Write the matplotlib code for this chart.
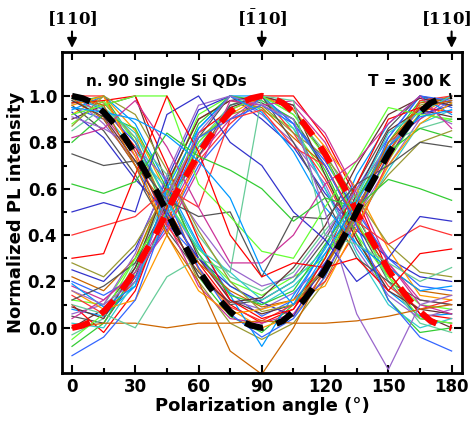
import numpy as np
import matplotlib.pyplot as plt

plt.rcParams['font.family'] = 'DejaVu Sans'
plt.rcParams['font.weight'] = 'bold'
plt.rcParams['mathtext.fontset'] = 'dejavuserif'

angles = [0, 15, 30, 45, 60, 75, 90, 105, 120, 135, 150, 165, 180]

# QDs aligned along [110] (max at 0 and 180 deg)
family_a = [
    [1.00, 0.95, 0.78, 0.52, 0.28, 0.10, 0.02, 0.08, 0.27, 0.52, 0.76, 0.95, 1.00],
    [0.97, 1.00, 0.80, 0.48, 0.22, 0.05, -0.02, 0.10, 0.30, 0.55, 0.80, 0.98, 0.96],
    [0.95, 0.90, 0.70, 0.45, 0.30, 0.15, 0.05, 0.12, 0.35, 0.60, 0.82, 1.00, 0.95],
    [1.00, 0.88, 0.72, 0.55, 0.32, 0.12, 0.08, 0.15, 0.28, 0.48, 0.70, 0.90, 0.98],
    [0.92, 1.00, 0.85, 0.58, 0.25, 0.08, 0.00, 0.05, 0.22, 0.50, 0.78, 0.92, 1.00],
    [0.98, 0.93, 0.76, 0.60, 0.35, 0.18, 0.10, 0.18, 0.32, 0.45, 0.68, 0.88, 0.94],
    [1.00, 0.97, 0.82, 0.50, 0.20, 0.02, -0.05, 0.02, 0.20, 0.48, 0.75, 0.96, 1.00],
    [0.90, 0.96, 1.00, 0.62, 0.30, 0.12, 0.06, 0.10, 0.25, 0.58, 0.85, 0.94, 0.91],
    [0.96, 0.85, 0.66, 0.42, 0.24, 0.10, 0.12, 0.20, 0.38, 0.62, 0.86, 1.00, 0.97],
    [0.88, 0.98, 0.80, 0.55, 0.34, 0.20, 0.14, 0.22, 0.30, 0.52, 0.72, 0.93, 0.89],
    [1.00, 0.92, 0.74, 0.46, 0.18, 0.04, 0.02, 0.06, 0.24, 0.46, 0.80, 0.90, 1.00],
    [0.94, 1.00, 0.88, 0.62, 0.36, 0.14, -0.08, 0.14, 0.34, 0.66, 0.88, 1.00, 0.92],
    [0.99, 0.90, 0.70, 0.52, 0.28, 0.16, 0.09, 0.12, 0.26, 0.55, 0.78, 0.97, 0.99],
    [0.85, 0.95, 0.82, 0.66, 0.40, 0.22, 0.16, 0.24, 0.42, 0.58, 0.80, 0.86, 0.90],
    [1.00, 1.00, 0.76, 0.44, 0.26, 0.09, 0.03, 0.10, 0.20, 0.42, 0.72, 0.98, 1.00],
    [0.93, 0.82, 0.64, 0.50, 0.30, 0.18, 0.11, 0.05, 0.28, 0.50, 0.74, 0.92, 0.96],
    [0.97, 0.98, 1.00, 0.70, 0.38, 0.12, 0.04, 0.08, 0.30, 0.62, 0.90, 0.95, 0.93],
    [0.80, 0.92, 0.86, 0.60, 0.32, 0.14, 0.10, 0.16, 0.36, 0.56, 0.76, 0.86, 0.82],
    [1.00, 0.94, 0.80, 0.56, 0.26, 0.06, -0.04, 0.04, 0.22, 0.50, 0.82, 1.00, 0.98],
    [0.91, 0.86, 0.78, 0.64, 0.44, 0.26, 0.18, 0.22, 0.40, 0.60, 0.78, 0.94, 0.88],
    [0.96, 1.00, 0.74, 0.40, 0.16, 0.06, 0.08, 0.12, 0.18, 0.44, 0.70, 0.88, 0.97],
    [0.99, 0.95, 0.84, 0.54, 0.34, 0.24, 0.12, 0.20, 0.34, 0.56, 0.84, 0.93, 1.00],
    [0.87, 1.00, 0.92, 0.68, 0.42, 0.20, 0.07, 0.10, 0.26, 0.48, 0.66, 0.80, 0.85],
    [0.98, 0.91, 0.72, 0.48, 0.22, 0.11, 0.13, 0.26, 0.44, 0.70, 0.92, 0.99, 0.96],
    [0.75, 0.70, 0.72, 0.55, 0.48, 0.50, 0.22, 0.48, 0.47, 0.62, 0.70, 0.80, 0.78],
    [0.92, 0.96, 1.00, 1.00, 0.62, 0.48, 0.33, 0.30, 0.52, 0.72, 0.95, 0.92, 0.90],
    [0.82, 0.86, 0.98, 0.78, 0.52, 0.28, 0.28, 0.40, 0.62, 0.72, 0.88, 1.00, 0.86],
    [0.95, 0.93, 0.90, 0.83, 0.72, 0.56, 0.25, 0.10, 0.32, 0.54, 0.78, 0.91, 0.94],
    [1.00, 0.96, 0.70, 0.40, 0.20, -0.10, -0.20, 0.00, 0.26, 0.50, 0.80, 0.95, 0.98],
]

# QDs aligned along [-110] (max at 90 deg)
family_b = [
    [0.00, 0.08, 0.26, 0.52, 0.78, 0.95, 1.00, 0.94, 0.74, 0.48, 0.24, 0.06, 0.00],
    [0.05, 0.02, 0.22, 0.55, 0.82, 1.00, 0.97, 0.90, 0.70, 0.45, 0.20, 0.04, 0.02],
    [0.12, 0.10, 0.30, 0.60, 0.92, 1.00, 0.94, 0.86, 0.66, 0.40, 0.22, 0.10, 0.08],
    [0.18, 0.12, 0.24, 0.48, 0.74, 0.90, 1.00, 0.96, 0.80, 0.52, 0.28, 0.12, 0.10],
    [0.08, 0.05, 0.18, 0.50, 0.86, 1.00, 1.00, 0.88, 0.60, 0.36, 0.16, 0.05, 0.06],
    [0.22, 0.16, 0.30, 0.62, 0.90, 0.98, 0.95, 0.82, 0.70, 0.44, 0.26, 0.16, 0.14],
    [-0.03, 0.04, 0.28, 0.58, 0.80, 0.96, 1.00, 0.92, 0.76, 0.50, 0.20, 0.02, -0.02],
    [0.14, 0.06, 0.20, 0.46, 0.72, 0.88, 1.00, 0.84, 0.64, 0.38, 0.18, 0.08, 0.12],
    [0.25, 0.20, 0.34, 0.64, 0.94, 1.00, 0.90, 0.78, 0.58, 0.42, 0.30, 0.22, 0.20],
    [0.10, -0.02, 0.16, 0.52, 0.84, 0.94, 1.00, 1.00, 0.82, 0.56, 0.24, 0.06, 0.04],
    [-0.08, 0.02, 0.24, 0.56, 0.88, 1.00, 0.98, 0.90, 0.68, 0.40, 0.12, -0.02, 0.00],
    [0.20, 0.14, 0.22, 0.44, 0.70, 0.86, 1.00, 0.88, 0.72, 0.50, 0.30, 0.18, 0.16],
    [0.06, 0.10, 0.32, 0.66, 0.96, 1.00, 0.92, 0.80, 0.62, 0.34, 0.14, 0.04, 0.08],
    [0.16, 0.08, 0.12, 0.40, 0.76, 0.92, 1.00, 0.94, 0.78, 0.60, 0.34, 0.14, 0.12],
    [0.02, 0.00, 0.20, 0.48, 0.78, 0.96, 1.00, 0.86, 0.60, 0.32, 0.10, 0.00, 0.04],
    [0.28, 0.22, 0.36, 0.58, 0.82, 0.92, 0.96, 0.84, 0.74, 0.56, 0.36, 0.24, 0.22],
    [0.09, 0.04, 0.26, 0.62, 0.90, 0.98, 1.00, 0.96, 0.66, 0.38, 0.16, 0.08, 0.06],
    [0.12, 0.18, 0.28, 0.54, 0.74, 0.96, 1.00, 0.80, 0.56, 0.30, 0.20, 0.12, 0.10],
    [-0.05, 0.06, 0.30, 0.50, 0.80, 0.94, 1.00, 0.92, 0.74, 0.46, 0.22, 0.04, 0.02],
    [0.04, 0.12, 0.24, 0.42, 0.68, 0.98, 0.96, 0.98, 0.84, 0.58, 0.28, 0.10, 0.06],
    [0.19, 0.09, 0.18, 0.60, 0.86, 1.00, 0.93, 0.76, 0.52, 0.36, 0.26, 0.16, 0.18],
    [0.00, 0.02, 0.02, 0.00, 0.02, 0.02, 0.03, 0.02, 0.02, 0.03, 0.05, 0.08, 0.10],
    [0.10, 0.06, 0.00, 0.22, 0.30, 0.24, 1.00, 0.98, 0.40, 0.36, 0.28, 0.20, 0.26],
    [0.40, 0.44, 0.48, 0.60, 0.52, 0.90, 0.94, 0.78, 0.70, 0.46, 0.36, 0.44, 0.40],
    [0.50, 0.54, 0.50, 0.92, 1.00, 0.80, 0.70, 0.50, 0.38, 0.20, 0.30, 0.48, 0.46],
    [0.30, 0.32, 0.66, 1.00, 0.76, 0.40, 0.22, 0.28, 0.26, 0.30, 0.16, 0.32, 0.34],
    [0.62, 0.58, 0.63, 0.84, 0.74, 0.68, 0.60, 0.46, 0.56, 0.52, 0.64, 0.60, 0.55],
    [-0.12, -0.04, 0.12, 0.50, 0.82, 0.90, 0.96, 0.88, 0.70, 0.44, 0.12, -0.04, -0.10],
    [0.16, 0.10, 0.20, 0.56, 0.84, 1.00, 0.96, 0.90, 0.50, 0.06, -0.18, 0.10, 0.14],
]

# fitted cos^2 / sin^2 curves, sampled every 5 deg
fit_x = list(range(0, 181, 5))
fit_cos = [1.00, 0.99, 0.97, 0.93, 0.88, 0.82, 0.75, 0.67, 0.59, 0.50, 0.41, 0.33,
           0.25, 0.18, 0.12, 0.07, 0.03, 0.01, 0.00, 0.01, 0.03, 0.07, 0.12, 0.18,
           0.25, 0.33, 0.41, 0.50, 0.59, 0.67, 0.75, 0.82, 0.88, 0.93, 0.97, 0.99, 1.00]
fit_sin = [1 - v for v in fit_cos]

colors = ['#ff0000', '#33cc33', '#3366ff', '#9966cc', '#ff9900', '#33cccc',
          '#999933', '#663333', '#555555', '#66ff33', '#cc3399', '#0099ff',
          '#cc6600', '#66cc99', '#ff3333', '#3333cc']

fig = plt.figure(figsize=(4.74, 4.22), dpi=100)
ax = fig.add_axes([0.131, 0.116, 0.844, 0.761])

i = 0
for a, b in zip(family_a, family_b):
    ax.plot(angles, a, color=colors[i % len(colors)], lw=0.9)
    ax.plot(angles, b, color=colors[(i + 7) % len(colors)], lw=0.9)
    i += 1

ax.plot(fit_x, fit_sin, color='red', lw=4.5, ls=(0, (3, 2.2)))
ax.plot(fit_x, fit_cos, color='black', lw=4.5, ls=(0, (3, 2.2)))

ax.set_xlim(-4.7, 185)
ax.set_ylim(-0.195, 1.19)
ax.set_xticks(range(0, 181, 30))
ax.set_xticks(range(0, 181, 15), minor=True)
ax.set_yticks(np.arange(0, 1.01, 0.2))
ax.set_yticks(np.arange(0, 1.01, 0.1), minor=True)
ax.set_yticklabels(['0.0', '0.2', '0.4', '0.6', '0.8', '1.0'])
ax.tick_params(which='both', direction='in', top=True, right=True, width=1.5,
               labelsize=12)
ax.tick_params(which='major', length=6)
ax.tick_params(which='minor', length=3.5)
for s in ax.spines.values():
    s.set_linewidth(2)

ax.set_xlabel('Polarization angle (°)', fontsize=13, fontweight='bold', labelpad=1)
ax.set_ylabel('Normalized PL intensity', fontsize=13, fontweight='bold', labelpad=2)
ax.text(0.06, 0.93, 'n. 90 single Si QDs', transform=ax.transAxes,
        fontsize=11, fontweight='bold', va='top')
ax.text(0.97, 0.93, 'T = 300 K', transform=ax.transAxes,
        fontsize=11, fontweight='bold', va='top', ha='right')

labels = [r'$\mathbf{[110]}$', r'$\mathbf{[\bar{1}10]}$', r'$\mathbf{[110]}$']
label_x = [0, 90, 177.5]
for xa, lx, lab in zip([0, 90, 180], label_x, labels):
    ax.annotate('', xy=(xa, 1.195), xytext=(xa, 1.29), xycoords='data',
                annotation_clip=False,
                arrowprops=dict(arrowstyle='-|>', color='black', lw=1.5,
                                mutation_scale=14))
    ax.text(lx, 1.295, lab, ha='center', va='bottom', fontsize=12, clip_on=False)

fig.savefig('out.png', dpi=100)
